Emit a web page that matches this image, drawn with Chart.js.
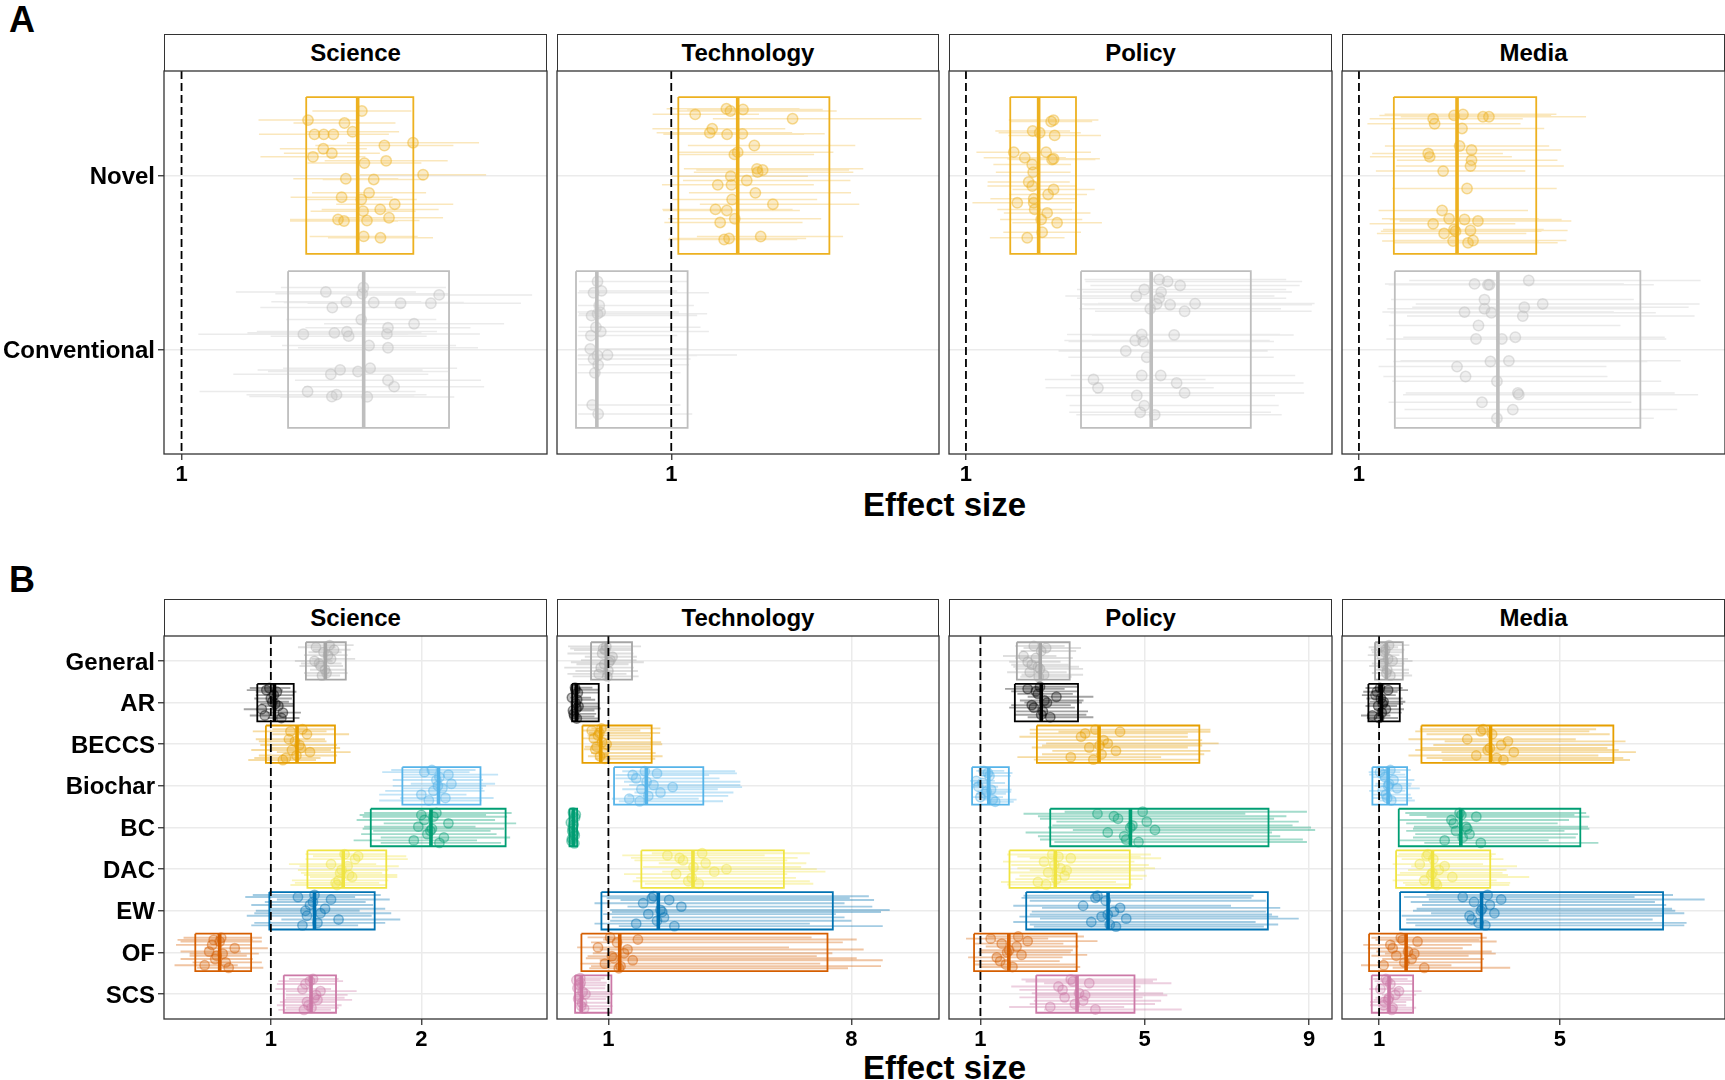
<!DOCTYPE html>
<html>
<head>
<meta charset="utf-8">
<script src="https://cdn.jsdelivr.net/npm/chart.js@4.4.1/dist/chart.umd.min.js"></script>
<style>
  body { margin: 0; background: #fff; }
  #page { position: relative; width: 1725px; height: 1080px; overflow: hidden; font-family: "Liberation Sans", Arial, Helvetica, sans-serif; }
  .tag { position: absolute; left: 9px; font-weight: bold; font-size: 36px; line-height: 1; }
  .xtitle { position: absolute; left: 164px; width: 1561px; text-align: center; font-weight: bold; font-size: 33px; line-height: 1; }
  .strip { position: absolute; box-sizing: border-box; border: 1.3px solid #333; border-bottom: none; display: flex; align-items: center; justify-content: center; font-weight: bold; font-size: 24px; background: #fff; }
  canvas { display: block; }
</style>
</head>
<body>
<div id="page">
  <div class="tag" style="top:1.5px">A</div>
  <div class="xtitle" style="top:488px">Effect size</div>
  <div class="tag" style="top:561.5px">B</div>
  <div class="xtitle" style="top:1051px">Effect size</div>
</div>
<script>
// ---------- shared ----------
const facetNames = ['Science', 'Technology', 'Policy', 'Media'];

// ---------- panel A: novel vs conventional ----------
const typeLabels = ['Novel', 'Conventional'];
const typeColors = ['#EDB120', '#BEBEBE'];
const aRange = [[0.883, 3.436], [0.14, 3.015], [0.773, 5.9], [0.773, 5.9]];
const aTicks = [[1], [1], [1], [1]];
const aMean = [[2.174, 2.214], [1.5, 0.44], [1.973, 3.48], [2.313, 2.86]];
const aLo = [[1.831, 1.710], [1.053, 0.283], [1.593, 2.54], [1.467, 1.48]];
const aHi = [[2.545, 2.783], [2.19, 1.123], [2.473, 4.813], [3.373, 4.767]];

const aPtX = [
  [ // Science
    [2.202,1.843,2.086,1.886,1.948,2.012,2.140,2.352,2.543,1.945,2.002,1.876,2.364,2.219,2.610,2.095,2.281,2.250,2.067,2.198,2.421,2.210,2.324,2.383,2.043,2.083,2.236,2.214,2.326],
    [2.212,2.205,1.962,2.717,2.098,2.005,2.281,2.460,2.662,2.198,2.550,2.376,1.812,2.019,2.102,2.114,2.369,2.250,2.376,1.995,2.057,2.176,2.257,2.376,2.417,1.840,2.002,2.033,2.238]
  ],
  [ // Technology
    [1.415,1.445,1.540,1.180,1.913,1.308,1.290,1.420,1.535,1.625,1.500,1.475,1.645,1.688,1.650,1.448,1.568,1.350,1.453,1.633,1.458,1.765,1.333,1.418,1.368,1.478,1.673,1.435,1.398],
    [0.445,0.415,0.475,0.458,0.445,0.400,0.465,0.433,0.470,0.395,0.390,0.445,0.520,0.415,0.450,0.425,0.405,0.450]
  ],
  [ // Policy
    [2.14,2.173,1.893,1.987,2.187,1.64,1.787,2.073,2.153,2.173,1.887,1.9,1.84,1.887,2.173,2.1,1.907,1.687,1.907,1.92,2.087,2.007,2.22,2.02,1.82],
    [3.587,3.7,3.867,3.387,3.613,3.28,3.587,3.733,4.067,3.553,3.467,3.927,3.353,3.787,3.267,3.373,3.14,3.42,3.353,3.607,2.707,2.767,3.82,3.287,3.927,3.387,3.333,3.527]
  ],
  [ // Media
    [1.993,2.013,2.273,2.393,2.66,2.74,2.38,2.347,1.927,1.947,2.507,2.507,2.493,2.127,2.447,2.113,2.207,2.413,2.593,1.993,2.273,2.293,2.493,2.14,2.46,2.527,2.26],
    [2.547,2.727,2.747,3.273,2.68,3.213,3.46,2.68,2.413,2.773,3.193,2.6,2.567,2.913,3.093,2.76,3.007,2.313,2.427,2.847,3.127,3.14,2.647,3.06,2.847]
  ]
];
const aJit = [
  [
    [-0.370,-0.318,-0.301,-0.236,-0.236,-0.236,-0.251,-0.172,-0.188,-0.153,-0.128,-0.107,-0.084,-0.071,-0.004,0.019,0.023,0.100,0.125,0.138,0.165,0.205,0.195,0.243,0.253,0.262,0.259,0.350,0.358],
    [-0.356,-0.320,-0.331,-0.314,-0.274,-0.241,-0.270,-0.266,-0.266,-0.172,-0.148,-0.125,-0.088,-0.096,-0.103,-0.077,-0.090,-0.023,-0.010,0.142,0.117,0.126,0.107,0.176,0.213,0.241,0.270,0.259,0.272]
  ],
  [
    [-0.383,-0.370,-0.379,-0.351,-0.326,-0.268,-0.245,-0.236,-0.239,-0.172,-0.134,-0.121,-0.038,-0.031,-0.019,0.004,0.029,0.054,0.054,0.100,0.138,0.165,0.195,0.201,0.270,0.249,0.351,0.362,0.368],
    [-0.391,-0.326,-0.337,-0.253,-0.205,-0.195,-0.215,-0.128,-0.103,-0.080,-0.004,0.034,0.031,0.054,0.088,0.134,0.318,0.370]
  ],
  [
    [-0.31,-0.318,-0.255,-0.245,-0.23,-0.134,-0.102,-0.134,-0.092,-0.096,-0.063,-0.019,0.038,0.061,0.08,0.109,0.134,0.157,0.157,0.195,0.215,0.253,0.272,0.326,0.358],
    [-0.402,-0.391,-0.368,-0.345,-0.33,-0.307,-0.295,-0.257,-0.264,-0.262,-0.234,-0.22,-0.086,-0.084,-0.052,-0.046,0.008,0.044,0.149,0.149,0.172,0.22,0.192,0.264,0.249,0.322,0.36,0.375]
  ],
  [
    [-0.326,-0.297,-0.345,-0.351,-0.337,-0.337,-0.27,-0.169,-0.126,-0.107,-0.146,-0.088,-0.054,-0.025,0.075,0.201,0.249,0.253,0.262,0.278,0.31,0.32,0.316,0.333,0.387,0.374,0.377],
    [-0.377,-0.372,-0.372,-0.397,-0.287,-0.243,-0.262,-0.234,-0.215,-0.211,-0.192,-0.138,-0.061,-0.061,-0.071,0.069,0.065,0.098,0.155,0.182,0.249,0.259,0.303,0.345,0.395]
  ]
];
// left / right error lengths (right = null means symmetric)
const aErrL = [
  [
    [0.33,0.33,0.34,0.37,0.33,0.37,0.31,0.46,0.44,0.29,0.32,0.35,0.41,0.38,0.42,0.35,0.34,0.38,0.34,0.37,0.39,0.35,0.39,0.36,0.32,0.36,0.35,0.36,0.35],
    [0.55,0.58,0.6,0.62,0.5,0.48,0.6,0.62,0.6,0.5,0.6,0.55,0.7,0.58,0.6,0.52,0.62,0.58,0.6,0.65,0.55,0.6,0.58,0.62,0.6,0.72,0.55,0.6,0.58]
  ],
  [
    [0.45,0.40,0.42,0.32,0.60,0.45,0.40,0.48,0.42,0.5,0.45,0.42,0.55,0.5,0.48,0.45,0.48,0.42,0.46,0.5,0.45,0.55,0.4,0.48,0.42,0.5,0.48,0.45,0.42],
    [0.14,0.12,0.17,0.16,0.14,0.10,0.17,0.13,0.17,0.10,0.09,0.15,0.22,0.12,0.15,0.13,0.11,0.15]
  ],
  [
    [0.55,0.6,0.5,0.55,0.62,0.5,0.55,0.6,0.58,0.62,0.52,0.5,0.55,0.6,0.55,0.52,0.58,0.6,0.55,0.5,0.58,0.55,0.6,0.52,0.5],
    [1.0,1.1,1.2,0.9,1.05,0.95,1.1,1.15,1.3,1.0,0.95,1.2,1.0,1.1,0.95,1.0,0.9,1.05,0.95,1.1,0.65,0.7,1.15,0.95,1.2,1.0,0.95,1.05]
  ],
  [
    [0.85,0.9,1.0,1.05,1.1,1.1,0.95,1.0,0.75,0.8,1.05,1.0,1.0,0.9,1.0,0.85,0.9,1.0,1.05,0.85,0.95,1.0,1.05,0.9,1.0,1.05,0.95],
    [1.2,1.3,1.35,1.6,1.25,1.5,1.7,1.3,1.1,1.35,1.55,1.2,1.2,1.4,1.5,1.3,1.45,1.05,1.1,1.4,1.5,1.55,1.25,1.45,1.35]
  ]
];
const aErrR = [
  [null, null],
  [
    [0.55,0.80,0.60,0.48,0.97,0.55,0.62,0.58,0.62,0.76,0.72,0.60,0.80,0.65,0.72,0.58,0.78,0.52,0.62,0.72,0.64,0.65,0.58,0.55,0.62,0.65,0.62,0.58,0.55],
    [0.675,0.868,0.570,0.712,0.825,0.795,0.593,0.787,0.813,0.650,0.730,0.750,0.975,0.730,0.683,0.645,0.665,0.708]
  ],
  [
    null,
    [1.7,1.8,1.6,1.9,1.75,1.85,1.7,1.9,1.6,1.8,1.75,1.7,1.85,1.6,1.8,1.75,1.9,1.7,1.65,1.8,1.5,1.55,1.7,1.85,1.6,1.8,1.75,1.7]
  ],
  [
    [1.2,1.15,1.3,1.25,1.2,1.3,1.1,1.2,1.0,1.1,1.2,1.15,1.25,1.1,1.2,1.15,1.2,1.3,1.25,1.1,1.2,1.15,1.3,1.1,1.2,1.25,1.15],
    [2.0,2.1,2.2,2.3,2.0,2.2,2.1,2.1,2.0,2.2,2.3,1.9,2.1,2.2,2.0,2.1,2.3,2.0,1.9,2.2,2.1,2.4,2.0,2.2,2.1]
  ]
];

// ---------- panel B: by method ----------
const methods = ['General', 'AR', 'BECCS', 'Biochar', 'BC', 'DAC', 'EW', 'OF', 'SCS'];
const methodColors = ['#A6A6A6', '#000000', '#E69F00', '#56B4E9', '#009E73', '#F0E442', '#0072B2', '#D55E00', '#CC79A7'];
const bRange = [[0.29, 2.835], [-0.48, 10.52], [0.235, 9.56], [0.18, 8.65]];
const bTicks = [[1, 2], [1, 8], [1, 5, 9], [1, 5]];
const bMean = [
  [1.362, 1.024, 1.174, 2.114, 2.064, 1.481, 1.290, 0.660, 1.267],
  [0.94, 0.08, 0.78, 2.093, -0.01, 3.435, 2.438, 1.326, 0.22],
  [2.456, 2.481, 3.889, 1.203, 4.653, 2.823, 4.108, 1.692, 3.352],
  [1.162, 1.052, 3.465, 1.2, 2.808, 2.181, 3.266, 1.598, 1.221]
];
const bLo = [
  [1.233, 0.910, 0.967, 1.874, 1.664, 1.243, 0.990, 0.498, 1.086],
  [0.50, -0.045, 0.252, 1.163, -0.12, 1.949, 0.799, 0.223, 0.041],
  [1.887, 1.838, 2.375, 0.797, 2.70, 1.708, 2.115, 0.845, 2.359],
  [0.911, 0.764, 1.937, 0.852, 1.435, 1.376, 1.465, 0.779, 0.838]
];
const bHi = [
  [1.498, 1.152, 1.426, 2.393, 2.560, 1.767, 1.690, 0.869, 1.433],
  [1.68, 0.722, 2.246, 3.733, 0.10, 6.053, 7.462, 7.309, 1.086],
  [3.173, 3.376, 6.33, 1.692, 8.014, 4.637, 7.998, 3.343, 4.751],
  [1.524, 1.458, 6.181, 1.62, 5.45, 3.458, 7.28, 3.266, 1.753]
];
const jitP = [-0.33, 0.12, -0.21, 0.29, -0.05, 0.35, -0.14, 0.06, -0.27, 0.21, 0.0, -0.38];
const jitQ = [0.31, -0.18, 0.08, -0.35, 0.24, -0.02, 0.16, -0.26, 0.37, -0.1, -0.3, 0.03];
const jitR = [-0.12, 0.27, -0.36, 0.14, -0.24, 0.33, 0.02, -0.07, 0.19, -0.31, 0.09, 0.38];
const bJit = [jitP, jitQ, jitR];

const sciX = [
  [1.30,1.33,1.35,1.37,1.40,1.34,1.38,1.32,1.42,1.36,1.29,1.39],
  [0.96,1.02,1.05,0.99,1.08,1.01,0.94,1.04,1.07,1.00,0.97,1.03],
  [1.12,1.17,1.21,1.14,1.24,1.10,1.19,1.16,1.26,1.13,1.20,1.08],
  [2.02,2.08,2.12,2.16,2.20,2.05,2.10,2.14,2.18,2.00,2.11,2.07],
  [1.95,2.02,2.06,2.10,2.15,1.98,2.04,2.08,2.12,2.18,2.00,2.07],
  [1.40,1.45,1.49,1.52,1.56,1.43,1.47,1.51,1.54,1.58,1.46,1.44],
  [1.18,1.24,1.28,1.31,1.36,1.21,1.26,1.33,1.40,1.45,1.23,1.29],
  [0.56,0.61,0.64,0.67,0.70,0.59,0.63,0.66,0.72,0.76,0.62,0.68],
  [1.21,1.25,1.28,1.31,1.23,1.27,1.30,1.33,1.24,1.26,1.29,1.22]
];
const sciL = [
  [0.12,0.14,0.10,0.15,0.13,0.11,0.16,0.12,0.14,0.10,0.13,0.15],
  [0.10,0.12,0.09,0.13,0.11,0.10,0.12,0.14,0.09,0.11,0.13,0.10],
  [0.22,0.25,0.20,0.27,0.23,0.21,0.26,0.24,0.22,0.25,0.20,0.23],
  [0.28,0.32,0.25,0.30,0.27,0.33,0.29,0.26,0.31,0.28,0.30,0.27],
  [0.40,0.45,0.38,0.48,0.42,0.36,0.44,0.47,0.39,0.43,0.41,0.46],
  [0.28,0.31,0.26,0.30,0.33,0.27,0.29,0.32,0.28,0.30,0.26,0.31],
  [0.35,0.40,0.32,0.42,0.37,0.34,0.39,0.44,0.36,0.38,0.33,0.41],
  [0.20,0.24,0.18,0.25,0.22,0.19,0.23,0.26,0.21,0.20,0.24,0.22],
  [0.18,0.21,0.16,0.22,0.19,0.17,0.20,0.23,0.18,0.21,0.19,0.17]
];
const sciR = [
  [0.13,0.15,0.12,0.14,0.16,0.12,0.13,0.15,0.11,0.14,0.12,0.16],
  [0.11,0.13,0.10,0.14,0.12,0.11,0.10,0.13,0.12,0.14,0.11,0.12],
  [0.24,0.27,0.22,0.26,0.28,0.23,0.25,0.21,0.27,0.24,0.26,0.22],
  [0.30,0.34,0.28,0.32,0.29,0.35,0.31,0.27,0.33,0.30,0.32,0.29],
  [0.42,0.47,0.40,0.50,0.44,0.38,0.46,0.49,0.41,0.45,0.43,0.48],
  [0.30,0.33,0.28,0.32,0.35,0.29,0.31,0.34,0.30,0.32,0.28,0.33],
  [0.38,0.43,0.35,0.45,0.40,0.37,0.42,0.47,0.39,0.41,0.36,0.44],
  [0.22,0.26,0.20,0.27,0.24,0.21,0.25,0.28,0.23,0.22,0.26,0.24],
  [0.19,0.22,0.17,0.23,0.20,0.18,0.21,0.24,0.19,0.22,0.20,0.18]
];

const tecX = [
  [0.72,0.82,0.88,0.94,1.00,1.06,0.78,0.91,0.97,1.12,0.85,1.02],
  [-0.05,0.00,0.04,0.08,0.12,0.02,0.06,0.10,-0.02,0.05,0.14,0.09],
  [0.52,0.62,0.70,0.76,0.82,0.90,0.58,0.66,0.74,0.86,0.95,0.80],
  [1.60,1.80,1.95,2.05,2.15,2.30,2.50,1.70,1.90,2.10,2.40,2.85],
  [-0.08,-0.05,-0.02,0.01,0.04,-0.06,-0.03,0.00,0.03,0.06,-0.04,0.02],
  [2.70,2.95,3.15,3.30,3.45,3.60,3.80,4.05,3.05,3.40,4.40,3.70],
  [1.80,2.00,2.15,2.30,2.40,2.50,2.60,2.75,2.90,3.10,2.25,2.55],
  [0.70,0.90,1.05,1.15,1.25,1.35,1.45,1.55,1.70,1.85,1.10,1.30],
  [0.08,0.13,0.17,0.22,0.26,0.30,0.11,0.15,0.20,0.24,0.34,0.19]
];
const tecL = [
  [0.9,1.0,0.8,1.1,0.95,0.85,1.05,0.9,1.0,0.8,0.95,1.1],
  [0.05,0.06,0.04,0.07,0.05,0.06,0.04,0.05,0.07,0.06,0.05,0.04],
  [0.28,0.32,0.30,0.35,0.33,0.29,0.31,0.34,0.30,0.36,0.32,0.29],
  [0.5,0.6,0.55,0.65,0.6,0.7,0.75,0.5,0.6,0.65,0.7,0.8],
  [0.04,0.05,0.03,0.05,0.04,0.03,0.05,0.04,0.03,0.05,0.04,0.04],
  [1.3,1.5,1.4,1.6,1.45,1.55,1.35,1.5,1.4,1.6,1.5,1.45],
  [1.2,1.4,1.3,1.5,1.35,1.45,1.5,1.4,1.6,1.55,1.3,1.45],
  [0.6,0.7,0.65,0.8,0.75,0.85,0.9,0.8,0.95,1.0,0.7,0.85],
  [0.06,0.08,0.07,0.09,0.08,0.06,0.07,0.09,0.08,0.07,0.06,0.08]
];
const tecR = [
  [0.8,0.9,0.7,1.0,0.85,0.75,0.95,0.8,0.9,0.7,0.85,1.0],
  [0.55,0.65,0.50,0.70,0.60,0.58,0.66,0.52,0.62,0.68,0.56,0.64],
  [1.4,1.6,1.5,1.8,1.7,1.45,1.65,1.55,1.75,1.5,1.6,1.7],
  [2.0,2.4,2.2,2.6,2.3,2.5,2.1,2.2,2.4,2.7,2.3,2.0],
  [0.05,0.04,0.05,0.03,0.04,0.05,0.04,0.03,0.05,0.04,0.05,0.03],
  [2.8,3.2,3.0,3.5,3.1,3.3,2.9,3.2,3.4,3.0,2.6,3.1],
  [5.0,5.8,5.4,6.2,5.6,6.6,5.2,5.9,6.0,5.5,5.7,6.3],
  [5.5,6.2,5.8,7.0,6.5,7.5,6.0,6.8,7.2,6.3,5.9,6.6],
  [0.7,0.8,0.75,0.9,0.85,0.7,0.8,0.9,0.75,0.85,0.8,0.7]
];

const polX = [
  [2.05,2.20,2.30,2.40,2.48,2.55,2.15,2.35,2.45,2.60,2.25,2.42],
  [2.15,2.30,2.40,2.48,2.56,2.70,2.85,2.25,2.35,2.52,2.62,2.45],
  [3.20,3.45,3.65,3.80,3.95,4.10,4.30,3.55,3.75,4.00,4.40,3.90],
  [0.90,1.00,1.08,1.15,1.22,1.30,0.95,1.05,1.12,1.18,1.26,1.36],
  [3.85,4.10,4.35,4.55,4.70,4.85,5.05,5.25,4.25,4.50,4.65,4.95],
  [2.40,2.55,2.65,2.75,2.85,2.95,3.05,3.20,2.60,2.80,2.90,3.10],
  [3.50,3.70,3.85,3.95,4.05,4.15,4.25,4.40,4.55,3.80,4.10,4.30],
  [1.25,1.40,1.52,1.62,1.70,1.78,1.88,2.00,2.15,1.48,1.65,1.92],
  [2.70,2.90,3.05,3.20,3.30,3.40,3.50,3.65,3.80,3.00,3.25,3.55]
];
const polL = [
  [0.5,0.55,0.45,0.6,0.5,0.55,0.45,0.5,0.6,0.55,0.5,0.45],
  [0.55,0.6,0.5,0.65,0.6,0.55,0.7,0.5,0.6,0.65,0.55,0.6],
  [1.3,1.5,1.4,1.6,1.45,1.5,1.55,1.35,1.45,1.6,1.5,1.4],
  [0.15,0.2,0.18,0.22,0.2,0.25,0.17,0.2,0.22,0.18,0.24,0.2],
  [1.8,2.0,1.9,2.1,1.95,2.05,2.2,2.0,1.85,2.1,2.0,1.9],
  [0.9,1.0,0.95,1.1,1.0,1.05,1.1,1.0,0.95,1.05,1.0,0.9],
  [1.7,1.9,1.8,2.0,1.85,1.95,2.0,1.9,2.1,1.8,1.9,2.0],
  [0.6,0.7,0.65,0.75,0.7,0.8,0.75,0.7,0.8,0.65,0.7,0.75],
  [1.0,1.15,1.1,1.2,1.1,1.15,1.2,1.1,1.25,1.05,1.15,1.2]
];
const polR = [
  [0.8,0.9,0.75,1.0,0.85,0.95,0.8,0.9,1.05,0.85,0.9,0.8],
  [0.9,1.0,0.85,1.1,0.95,1.05,0.9,0.95,1.0,1.1,0.85,0.95],
  [2.2,2.6,2.4,2.8,2.5,2.7,2.3,2.5,2.6,2.4,2.2,2.5],
  [0.45,0.55,0.5,0.6,0.52,0.58,0.48,0.55,0.5,0.6,0.5,0.45],
  [3.6,4.0,3.8,4.3,3.9,4.1,3.7,3.9,4.2,3.8,4.4,4.0],
  [1.9,2.2,2.0,2.4,2.1,2.3,2.0,2.2,2.1,2.3,2.0,1.9],
  [3.6,4.0,3.8,4.3,3.9,4.1,3.7,3.9,4.2,3.8,4.0,3.6],
  [1.4,1.6,1.5,1.7,1.55,1.65,1.5,1.6,1.7,1.45,1.55,1.6],
  [1.8,2.0,1.9,2.1,1.95,2.05,1.9,2.0,2.1,1.85,1.95,2.0]
];

const medX = [
  [1.02,1.08,1.12,1.16,1.20,1.25,1.05,1.10,1.14,1.18,1.30,1.22],
  [0.85,0.92,0.98,1.02,1.06,1.10,1.15,0.95,1.00,1.04,1.20,1.08],
  [2.95,3.15,3.30,3.40,3.50,3.60,3.70,3.85,3.98,3.25,3.45,3.75],
  [1.02,1.08,1.13,1.18,1.22,1.27,1.32,1.40,1.10,1.15,1.20,1.25],
  [2.45,2.60,2.70,2.78,2.85,2.92,3.00,3.15,3.25,2.65,2.82,2.95],
  [1.90,2.00,2.08,2.15,2.20,2.25,2.32,2.45,2.62,2.05,2.18,2.28],
  [2.85,3.00,3.10,3.20,3.28,3.35,3.45,3.55,3.70,3.05,3.25,3.40],
  [1.10,1.25,1.38,1.48,1.56,1.64,1.72,1.85,2.00,1.30,1.52,1.78],
  [1.03,1.10,1.15,1.20,1.25,1.30,1.36,1.44,1.12,1.18,1.22,1.28]
];
const medL = [
  [0.25,0.3,0.28,0.32,0.3,0.27,0.3,0.26,0.32,0.28,0.3,0.27],
  [0.25,0.3,0.28,0.32,0.28,0.3,0.26,0.3,0.27,0.32,0.29,0.31],
  [1.3,1.5,1.4,1.6,1.45,1.55,1.5,1.4,1.6,1.45,1.5,1.35],
  [0.25,0.3,0.28,0.32,0.3,0.27,0.3,0.26,0.32,0.28,0.3,0.27],
  [1.0,1.15,1.1,1.2,1.1,1.15,1.2,1.1,1.25,1.05,1.15,1.2],
  [0.6,0.7,0.65,0.75,0.7,0.72,0.68,0.74,0.7,0.66,0.72,0.7],
  [1.3,1.5,1.4,1.6,1.45,1.55,1.5,1.4,1.6,1.45,1.5,1.35],
  [0.5,0.6,0.55,0.65,0.6,0.7,0.65,0.6,0.7,0.55,0.6,0.65],
  [0.25,0.3,0.28,0.32,0.3,0.27,0.3,0.26,0.32,0.28,0.3,0.27]
];
const medR = [
  [0.4,0.45,0.42,0.5,0.44,0.48,0.4,0.46,0.42,0.48,0.44,0.45],
  [0.4,0.45,0.42,0.5,0.44,0.48,0.4,0.46,0.42,0.48,0.44,0.45],
  [2.4,2.7,2.5,2.9,2.6,2.8,2.5,2.6,2.7,2.4,2.6,2.8],
  [0.45,0.5,0.48,0.55,0.5,0.52,0.46,0.5,0.48,0.55,0.5,0.45],
  [2.3,2.6,2.4,2.8,2.5,2.7,2.4,2.5,2.6,2.3,2.5,2.7],
  [1.4,1.6,1.5,1.7,1.55,1.65,1.5,1.6,1.7,1.45,1.55,1.6],
  [3.8,4.3,4.0,4.6,4.2,4.4,3.9,4.2,4.5,4.0,4.3,4.1],
  [1.5,1.8,1.6,1.9,1.7,1.85,1.6,1.75,1.9,1.55,1.7,1.8],
  [0.45,0.5,0.48,0.55,0.5,0.52,0.46,0.5,0.48,0.55,0.5,0.45]
];
const bX = [sciX, tecX, polX, medX];
const bL = [sciL, tecL, polL, medL];
const bR = [sciR, tecR, polR, medR];

// ---------- drawing ----------
Chart.defaults.font.family = '"Liberation Sans", Arial, Helvetica, sans-serif';
Chart.defaults.color = '#000';

const page = document.getElementById('page');
const PAD = 4, XAXIS_H = 45, Y_W = 164;
const facetLeft = [164, 557, 949, 1342];
const facetW = [383, 382, 383, 383];

function rgba(hex, a) {
  const n = parseInt(hex.slice(1), 16);
  return `rgba(${n >> 16},${(n >> 8) & 255},${n & 255},${a})`;
}

const frame = {
  id: 'frame',
  afterDraw(c) {
    const a = c.chartArea, ctx = c.ctx;
    ctx.save();
    ctx.strokeStyle = '#333';
    ctx.lineWidth = 1.3;
    ctx.strokeRect(a.left, a.top, a.right - a.left, a.bottom - a.top);
    ctx.restore();
  }
};

function groupSets(g, ptR, lw) {
  const err = [], pts = [];
  g.xs.forEach((v, i) => {
    const y = g.row + g.jit[i % g.jit.length];
    err.push({ x: v - g.errL[i], y }, { x: v + g.errR[i], y }, { x: null, y: null });
    pts.push({ x: v, y });
  });
  const h = 0.45, r = g.row;
  const box = [
    { x: g.lo, y: r - h }, { x: g.hi, y: r - h }, { x: g.hi, y: r + h },
    { x: g.lo, y: r + h }, { x: g.lo, y: r - h }
  ];
  return [
    { data: err, showLine: true, spanGaps: false, borderColor: rgba(g.color, g.lineA), borderWidth: lw, pointRadius: 0, order: 5 },
    { data: box, showLine: true, borderColor: g.color, borderWidth: 1.8, borderJoinStyle: 'miter', pointRadius: 0, order: 4 },
    { data: [{ x: g.mean, y: r - h }, { x: g.mean, y: r + h }], showLine: true, borderColor: g.color, borderWidth: 3.6, borderCapStyle: 'butt', pointRadius: 0, order: 3 },
    { data: pts, showLine: false, pointRadius: ptR, backgroundColor: rgba(g.color, 0.25), borderColor: rgba(g.color, 0.45), borderWidth: 1.5, order: 2 }
  ];
}

function makeFacet(f, stripTop, plotTop, plotH, cats, range, ticks, groups, ptR, lw, xGrid) {
  const strip = document.createElement('div');
  strip.className = 'strip';
  strip.textContent = facetNames[f];
  strip.style.cssText = `left:${facetLeft[f]}px;top:${stripTop}px;width:${facetW[f]}px;height:${plotTop - stripTop}px`;
  page.appendChild(strip);

  const yw = f === 0 ? Y_W : 0;
  const wrap = document.createElement('div');
  wrap.style.cssText = `position:absolute;left:${facetLeft[f] - yw - PAD}px;top:${plotTop - PAD}px`;
  const cv = document.createElement('canvas');
  cv.width = facetW[f] + yw + 2 * PAD;
  cv.height = plotH + PAD + XAXIS_H;
  wrap.appendChild(cv);
  page.appendChild(wrap);

  const yMax = cats.length - 1 + 0.6;
  const datasets = [];
  groups.forEach(g => datasets.push(...groupSets(g, ptR, lw)));
  datasets.push({
    data: [{ x: 1, y: -0.6 }, { x: 1, y: yMax }], showLine: true,
    borderColor: '#000', borderWidth: 1.8, borderDash: [8, 4], pointRadius: 0, order: 1
  });

  new Chart(cv, {
    type: 'scatter',
    data: { datasets },
    options: {
      responsive: false, animation: false, events: [],
      layout: { padding: { top: PAD, left: PAD, right: PAD, bottom: 0 }, autoPadding: false },
      plugins: { legend: { display: false }, tooltip: { enabled: false } },
      scales: {
        x: {
          type: 'linear', min: range[0], max: range[1],
          afterBuildTicks: s => { s.ticks = ticks.map(v => ({ value: v })); },
          afterFit: s => { s.height = XAXIS_H; s.paddingLeft = 0; s.paddingRight = 0; },
          ticks: { color: '#000', font: { size: 22, weight: 'bold' }, padding: 2, maxRotation: 0, autoSkip: false },
          grid: { drawOnChartArea: xGrid, color: '#ebebeb', lineWidth: 1.5, tickLength: 6, tickColor: '#333', tickWidth: 1.3 },
          border: { display: false }
        },
        y: {
          type: 'linear', reverse: true, min: -0.6, max: yMax,
          afterBuildTicks: s => { s.ticks = cats.map((c, i) => ({ value: i })); },
          afterFit: s => { s.width = yw; s.paddingTop = 0; s.paddingBottom = 0; },
          ticks: { display: f === 0, color: '#000', font: { size: 24, weight: 'bold' }, padding: 3, labelOffset: 2, autoSkip: false, callback: v => cats[v] },
          grid: { color: '#ebebeb', lineWidth: 1.5, drawTicks: f === 0, tickLength: 6, tickColor: '#333', tickWidth: 1.3 },
          border: { display: false }
        }
      }
    },
    plugins: [frame]
  });
}

facetNames.forEach((name, f) => {
  const aGroups = typeLabels.map((t, i) => ({
    row: i, mean: aMean[f][i], lo: aLo[f][i], hi: aHi[f][i],
    xs: aPtX[f][i], jit: aJit[f][i], errL: aErrL[f][i],
    errR: aErrR[f][i] || aErrL[f][i], color: typeColors[i], lineA: 0.3
  }));
  makeFacet(f, 34, 71, 383, typeLabels, aRange[f], aTicks[f], aGroups, 5.2, 1.5, false);

  const bGroups = methods.map((m, i) => ({
    row: i, mean: bMean[f][i], lo: bLo[f][i], hi: bHi[f][i],
    xs: bX[f][i], jit: bJit[(i + f) % 3], errL: bL[f][i], errR: bR[f][i],
    color: methodColors[i], lineA: 0.36
  }));
  makeFacet(f, 599, 636, 383, methods, bRange[f], bTicks[f], bGroups, 4.7, 1.9, true);
});
</script>
</body>
</html>
